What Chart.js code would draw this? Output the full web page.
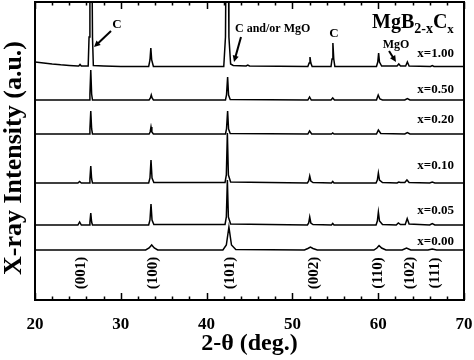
<!DOCTYPE html>
<html>
<head>
<meta charset="utf-8">
<script src="https://cdn.jsdelivr.net/npm/chart.js@4/dist/chart.umd.min.js"></script>
<style>
html,body{margin:0;padding:0;background:#fff;}
#wrap{width:474px;height:360px;}
</style>
</head>
<body>
<div id="wrap"><canvas id="c" width="474" height="360"></canvas></div>
<script>
// ---- data: [2-theta (deg), intensity above own baseline (a.u.)] ----
const pattern100 = [[20,5],[21,4],[22,3],[23,2.2],[24,1.6],[25,1],[25.1,1],[25.25,2.5],[25.4,1],[26.2,1],[26.3,30],[26.4,150],[26.5,260],[26.6,150],[26.7,30],[26.8,1.5],[28,1],[30,0.5],[33.25,0.5],[33.4,7],[33.5,19],[33.6,7],[33.8,0.5],[42.0,0.5],[42.2,30],[42.3,150],[42.4,260],[42.5,150],[42.6,30],[42.8,3],[43.1,1.5],[44.6,1],[44.8,2],[45,1],[51.8,0.5],[51.95,4],[52.05,10],[52.15,4],[52.3,0.5],[54.5,0.5],[54.62,8],[54.72,24],[54.82,8],[54.95,0.5],[59.8,0.5],[59.95,5],[60.05,14],[60.15,5],[60.4,1],[62.2,1],[62.4,3],[62.6,1],[63.2,1],[63.4,5],[63.6,1],[66.1,0.5],[66.3,1.5],[66.5,0.5],[70,0.5]];
const pattern050 = [[20,0],[26.3,0],[26.4,6],[26.5,30],[26.6,6],[26.7,0],[33.3,0],[33.45,2],[33.55,5],[33.65,2],[33.8,0],[42.2,0],[42.32,5],[42.45,23],[42.56,5],[42.75,0.5],[51.8,0],[52.0,3],[52.2,0],[54.5,0],[54.7,2],[54.9,0],[59.8,0],[60.0,5],[60.2,1],[60.5,0],[63.1,0],[63.4,1.5],[63.7,0],[70,0]];
const pattern020 = [[20,0],[26.3,0],[26.4,5],[26.5,23],[26.6,5],[26.7,0],[33.3,0],[33.42,2],[33.52,7],[33.62,2],[33.8,0],[42.2,0],[42.32,5],[42.45,23],[42.56,5],[42.75,0.5],[51.8,0],[52.0,3],[52.25,0],[54.55,0],[54.7,1],[54.85,0],[59.8,0],[60.02,4],[60.3,0.5],[63.1,0],[63.4,1.5],[63.7,0],[70,0]];
const pattern010 = [[20,0],[25.0,0],[25.2,1.5],[25.4,0],[26.3,0],[26.4,4],[26.5,17],[26.6,4],[26.7,0],[33.25,0],[33.4,5],[33.52,23],[33.64,5],[33.85,0.5],[42.15,0.5],[42.3,8],[42.42,50],[42.54,8],[42.8,1],[51.75,0],[51.9,2],[52.02,7],[52.15,2],[52.4,0.5],[54.55,0],[54.7,1.5],[54.85,0],[59.75,0],[59.9,3],[60.02,10],[60.15,3],[60.5,0.5],[62.2,0],[62.4,1],[62.6,0.5],[63.1,0.5],[63.35,3],[63.6,0.5],[66.0,0],[66.3,1],[66.6,0],[70,0]];
const pattern005 = [[20,0],[25.0,0],[25.2,3],[25.4,0],[26.3,0],[26.4,3],[26.5,12],[26.6,3],[26.7,0],[33.25,0],[33.4,5],[33.52,21],[33.64,5],[33.85,0.5],[42.15,0.5],[42.3,8],[42.42,45],[42.54,8],[42.8,1],[51.75,0],[51.9,2],[52.02,8],[52.15,2],[52.4,0.5],[54.55,0],[54.7,1.5],[54.85,0],[59.75,0],[59.9,4],[60.02,13],[60.15,4],[60.5,0.5],[62.1,0],[62.35,2],[62.6,0.5],[63.15,0.5],[63.38,6.5],[63.6,1],[66.0,0],[66.3,1.5],[66.6,0],[70,0]];
const pattern000 = [[20,0],[32.9,0],[33.3,2],[33.6,5],[33.9,2],[34.3,0],[41.9,0],[42.3,5],[42.6,23],[42.9,5],[43.4,0.5],[51.4,0],[51.8,1.5],[52.1,3],[52.4,1.5],[52.9,0],[59.5,0],[59.85,2],[60.1,4.5],[60.4,2],[60.9,0],[62.8,0],[63.3,2],[63.8,0],[65.8,0],[66.3,1],[66.8,0],[70,0]];

const sampleLabels = ['x=1.00','x=0.50','x=0.20','x=0.10','x=0.05','x=0.00'];
const stackOffsets = [233, 200, 166, 117, 75, 50];
const patterns = [pattern100, pattern050, pattern020, pattern010, pattern005, pattern000];

const hklLabels = ['(001)','(100)','(101)','(002)','(110)','(102)','(111)'];
const hklAngles = [25.4, 33.8, 42.7, 52.5, 60.0, 63.7, 66.6];

const xTickValues = [20,30,40,50,60,70];

const FONT = '"Liberation Serif","Times New Roman",serif';

const datasets = patterns.map((p, i) => ({
  label: sampleLabels[i],
  data: p.map(([t, v]) => ({x: t, y: v + stackOffsets[i]})),
  borderColor: '#000',
  borderWidth: 1.5,
  pointRadius: 0,
  tension: 0,
  fill: false
}));

function arrow(ctx, x1, y1, x2, y2) {
  const ang = Math.atan2(y2 - y1, x2 - x1);
  const h = 7;
  ctx.beginPath();
  ctx.moveTo(x1, y1);
  ctx.lineTo(x2 - Math.cos(ang) * h * 0.8, y2 - Math.sin(ang) * h * 0.8);
  ctx.stroke();
  ctx.beginPath();
  ctx.moveTo(x2, y2);
  ctx.lineTo(x2 - h * Math.cos(ang - 0.45), y2 - h * Math.sin(ang - 0.45));
  ctx.lineTo(x2 - h * Math.cos(ang + 0.45), y2 - h * Math.sin(ang + 0.45));
  ctx.closePath();
  ctx.fill();
}

const overlay = {
  id: 'overlay',
  afterDatasetsDraw(chart) {
    const {ctx, chartArea: a, scales: {x, y}} = chart;
    ctx.save();
    ctx.strokeStyle = '#000';
    ctx.fillStyle = '#000';
    // frame
    ctx.lineWidth = 2;
    ctx.strokeRect(a.left, a.top, a.right - a.left, a.bottom - a.top);
    // inward ticks top and bottom
    ctx.lineWidth = 1.5;
    for (let v = x.min; v <= x.max + 1e-9; v += 2) {
      const px = Math.round(x.getPixelForValue(v)) + 0.5;
      const len = (Math.abs(v % 10) < 1e-9) ? 7 : 3.5;
      ctx.beginPath();
      ctx.moveTo(px, a.bottom); ctx.lineTo(px, a.bottom - len);
      ctx.moveTo(px, a.top); ctx.lineTo(px, a.top + len);
      ctx.stroke();
    }
    // y-axis title
    ctx.save();
    ctx.translate(14, 158);
    ctx.rotate(-Math.PI / 2);
    ctx.font = 'bold 26px ' + FONT;
    ctx.textAlign = 'center';
    ctx.textBaseline = 'middle';
    ctx.fillText('X-ray Intensity (a.u.)', 0, 0);
    ctx.restore();

    // sample labels
    ctx.font = 'bold 13px ' + FONT;
    ctx.textAlign = 'right';
    ctx.textBaseline = 'middle';
    const labelY = [54, 89.5, 119.5, 165.5, 211, 241.5];
    sampleLabels.forEach((s, i) => ctx.fillText(s, a.right - 10, labelY[i]));

    // hkl labels
    ctx.font = 'bold 15px ' + FONT;
    ctx.textAlign = 'center';
    ctx.textBaseline = 'middle';
    hklLabels.forEach((s, i) => {
      ctx.save();
      ctx.translate(x.getPixelForValue(hklAngles[i]), 273);
      ctx.rotate(-Math.PI / 2);
      ctx.fillText(s, 0, 0);
      ctx.restore();
    });

    // compound title MgB2-xCx
    ctx.textAlign = 'left';
    ctx.textBaseline = 'alphabetic';
    let cx = 372;
    ctx.font = 'bold 20px ' + FONT;
    ctx.fillText('MgB', cx, 28); cx += ctx.measureText('MgB').width;
    ctx.font = 'bold 14px ' + FONT;
    ctx.fillText('2-x', cx, 33); cx += ctx.measureText('2-x').width;
    ctx.font = 'bold 20px ' + FONT;
    ctx.fillText('C', cx, 28); cx += ctx.measureText('C').width;
    ctx.font = 'bold 13px ' + FONT;
    ctx.fillText('x', cx, 33);

    // peak annotations
    ctx.textAlign = 'center';
    ctx.textBaseline = 'middle';
    ctx.font = 'bold 13px ' + FONT;
    ctx.fillText('C', 117, 25);
    ctx.fillText('C', 334, 33.5);
    ctx.font = 'bold 12px ' + FONT;
    ctx.textAlign = 'left';
    ctx.fillText('C and/or MgO', 235, 28.5);
    ctx.textAlign = 'center';
    ctx.fillText('MgO', 396, 44.5);

    ctx.lineWidth = 2;
    arrow(ctx, 111, 31, 94, 47);
    arrow(ctx, 241, 37, 234, 62);
    arrow(ctx, 389, 51, 396, 62);
    ctx.restore();
  }
};

new Chart(document.getElementById('c'), {
  type: 'line',
  data: { datasets },
  options: {
    responsive: false,
    animation: false,
    events: [],
    layout: { padding: { top: 2, right: 10, left: 0, bottom: 0 } },
    plugins: { legend: { display: false }, tooltip: { enabled: false } },
    scales: {
      x: {
        type: 'linear',
        min: 20, max: 70,
        afterFit(s) { s.height = 60; s.paddingLeft = 0; s.paddingRight = 0; },
        afterBuildTicks(s) { s.ticks = xTickValues.map(v => ({value: v})); },
        grid: { display: false, drawTicks: false },
        border: { display: false },
        ticks: { color: '#000', padding: 14, maxRotation: 0, font: { family: FONT, size: 17, weight: 'bold' } },
        title: { display: true, text: '2-θ (deg.)', color: '#000', padding: { top: 0, bottom: 2 }, font: { family: FONT, size: 24, weight: 'bold' } }
      },
      y: {
        type: 'linear',
        min: 0, max: 298,
        afterFit(s) { s.width = 35; s.paddingTop = 0; s.paddingBottom = 0; },
        grid: { display: false, drawTicks: false },
        border: { display: false },
        ticks: { display: false }
      }
    }
  },
  plugins: [overlay]
});
</script>
</body>
</html>
